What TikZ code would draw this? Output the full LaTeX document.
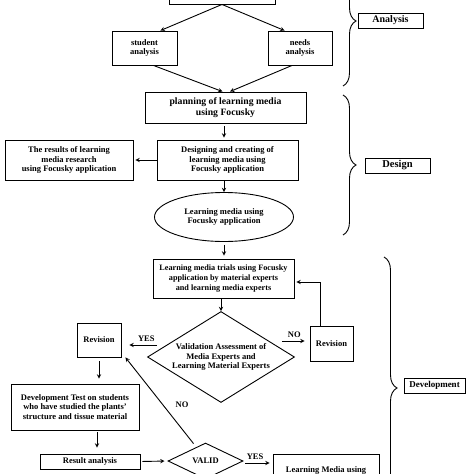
\documentclass[tikz,border=0pt]{standalone}
\usepackage{fontspec}
\setmainfont{Liberation Serif}
\usetikzlibrary{arrows,shapes.geometric}
\usetikzlibrary{decorations.pathreplacing}

\begin{document}
\begin{tikzpicture}[x=1pt, y=-1pt, >=stealth, line width=0.9pt,
  box/.style={draw, rectangle, align=center, inner sep=1pt,
    font=\fontsize{8.5}{9.6}\selectfont\bfseries},
  stage/.style={draw, rectangle, align=center, inner sep=1pt, minimum width=64pt, minimum height=15pt},
  lbl/.style={font=\fontsize{8.5}{9.6}\selectfont\bfseries},
  bracedeco/.style={decorate, decoration={brace, amplitude=13pt}}]
\useasboundingbox (0,0) rectangle (474,474);
\clip (0,0) rectangle (474,474);

  \node (top) at (222,-8) [box, minimum width=106pt, minimum height=24pt] {};
  \node (stud) at (144.5,48) [box, minimum width=65pt, minimum height=34pt] {student\\ analysis};
  \node (need) at (300,48) [box, minimum width=64pt, minimum height=34pt] {needs\\ analysis};
  \node (plan) at (225.5,107.5) [box, minimum width=161pt, minimum height=31pt, font=\fontsize{9.7}{11}\selectfont\bfseries] {planning of learning media\\ using Focusky};
  \node (design) at (227.5,160) [box, minimum width=141pt, minimum height=40pt] {Designing and creating of\\ learning media using\\ Focusky application};
  \node (result) at (69,160) [box, minimum width=128pt, minimum height=40pt] {The results of learning\\ media research\\ using Focusky application};
  \node (media) at (224,217) [box, ellipse, inner sep=0pt, minimum width=139pt, minimum height=49pt] {Learning media using\\ Focusky application};
  \node (trial) at (223.5,278.5) [box, minimum width=141pt, minimum height=39pt, font=\fontsize{8.2}{9.6}\selectfont\bfseries] {Learning media trials using Focusky\\ application by material experts\\ and learning media experts};
  \node (valid1) at (221,357) [box, diamond, aspect=1.6, inner sep=0pt, minimum width=147pt, minimum height=91pt] {Validation Assessment of\\ Media Experts and\\ Learning Material Experts};
  \node (rev2) at (331.5,343.5) [box, minimum width=43pt, minimum height=35pt] {Revision};
  \node (rev1) at (99,340) [box, minimum width=44pt, minimum height=34pt] {Revision};
  \node (devtest) at (75,407) [box, minimum width=128pt, minimum height=46pt] {Development Test on students\\ who have studied the plants'\\ structure and tissue material};
  \node (resan) at (90,461.5) [box, minimum width=100pt, minimum height=15pt] {Result analysis};
  \node (valid) at (205.5,461) [box, diamond, aspect=2, inner sep=0pt, minimum width=75pt, minimum height=36pt] {VALID};
  \node (lmedia) at (326,454) [box, anchor=north, minimum width=106pt, inner ysep=12pt] {Learning Media using};

  \draw [->] (top.south) -- ([xshift=-17pt]stud.north east);
  \draw [->] (top.south) -- ([xshift=17pt]need.north west);
  \draw [->] ([xshift=9pt]stud.south) -- ([xshift=-3pt]plan.north);
  \draw [->] ([xshift=-8pt]need.south) -- ([xshift=4.5pt]plan.north);
  \draw [->, shorten <=3pt, shorten >=2pt] (media.north |- plan.south) -- (media.north |- design.north);
  \draw [->, shorten >=2pt] (design.west) -- (result.east);
  \draw [->] (media.north |- design.south) -- (media.north);
  \draw [->, shorten <=3pt, shorten >=3pt] (media.south) -- (media.south |- trial.north);
  \draw [->] (valid1.north |- trial.south) -- (valid1.north);

  \coordinate (noA) at ([xshift=-13pt, yshift=16pt]valid1.east);
  \draw [->, shorten >=5pt] (noA) -- (noA -| rev2.west) node [lbl, pos=0.45, above] {NO};
  \coordinate (back) at ([yshift=-3.5pt]trial.east);
  \draw [->, shorten >=2pt] ([xshift=-11.5pt]rev2.north) |- (back);
  \coordinate (yesA) at ([xshift=10pt, yshift=12pt]valid1.west);
  \draw [->, shorten >=8pt] (yesA) -- (yesA -| rev1.east) node [lbl, pos=0.3, above] {YES};

  \draw [->, shorten <=4pt, shorten >=5pt] (rev1.south) -- (rev1.south |- devtest.north);
  \coordinate (dr) at ([xshift=7pt]resan.north);
  \draw [->, shorten <=2pt, shorten >=6pt] (dr |- devtest.south) -- (dr);
  \draw [->, shorten <=2pt, shorten >=3pt] (resan.east) -- (valid.west);
  \draw [->] ([xshift=-12pt, yshift=-1pt]valid.north) -- ([xshift=4pt]rev1.south east) node [lbl, pos=0.45, right=9pt] {NO};
  \draw [->, shorten <=2pt, shorten >=3pt] ([yshift=-2pt]valid.east) -- ([yshift=-2pt]valid.east -| lmedia.west) node [lbl, pos=0.4, above] {YES};

  \draw [bracedeco] (343,-44) -- (343,86);
  \draw [bracedeco] (343,95) -- (343,235);
  \draw [bracedeco] (384,257) -- (384,519);
  \node (ana) at (390.5,20.5) [stage, minimum width=65pt, font=\fontsize{10}{11}\selectfont\bfseries] {Analysis};
  \node (des) at (397.5,165.5) [stage, minimum width=65pt, font=\fontsize{10.5}{11}\selectfont\bfseries] {Design};
  \node (dev) at (434.5,385.5) [stage, minimum width=61pt, font=\fontsize{9}{10}\selectfont\bfseries] {Development};
\end{tikzpicture}
\end{document}
